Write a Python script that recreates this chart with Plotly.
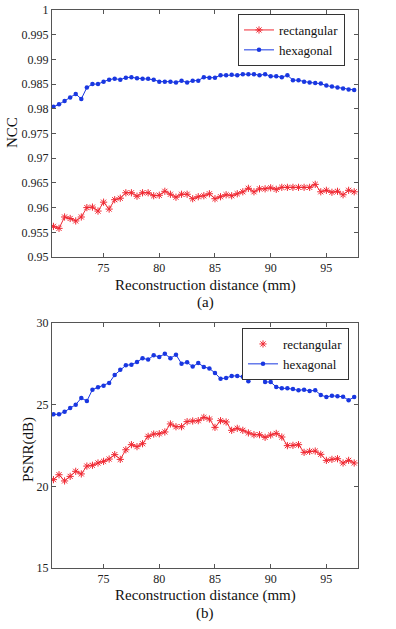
import plotly.graph_objects as go

distance = [70.5 + 0.5 * i for i in range(55)]

ncc_hex = [0.9804, 0.9809, 0.9816, 0.9823, 0.9830, 0.9820, 0.9843, 0.9850, 0.9850, 0.9855,
           0.9859, 0.9861, 0.9859, 0.9863, 0.9864, 0.9862, 0.9861, 0.9861, 0.9859, 0.9855,
           0.9855, 0.9855, 0.9853, 0.9857, 0.9853, 0.9857, 0.9857, 0.9864, 0.9863, 0.9863,
           0.9868, 0.9868, 0.9869, 0.9868, 0.9870, 0.9870, 0.9870, 0.9868, 0.9870, 0.9866,
           0.9866, 0.9864, 0.9868, 0.9858, 0.9858, 0.9855, 0.9853, 0.9852, 0.9851, 0.9847,
           0.9845, 0.9843, 0.9841, 0.9839, 0.9838]
ncc_rect = [0.9562, 0.9558, 0.9581, 0.9578, 0.9573, 0.9581, 0.9600, 0.9601, 0.9593, 0.9611,
            0.9597, 0.9616, 0.9619, 0.9630, 0.9630, 0.9623, 0.9630, 0.9630, 0.9624, 0.9625,
            0.9633, 0.9627, 0.9621, 0.9627, 0.9627, 0.9618, 0.9622, 0.9624, 0.9628, 0.9618,
            0.9622, 0.9626, 0.9624, 0.9628, 0.9632, 0.9639, 0.9632, 0.9638, 0.9638, 0.9640,
            0.9637, 0.9641, 0.9641, 0.9641, 0.9641, 0.9641, 0.9641, 0.9647, 0.9632, 0.9635,
            0.9631, 0.9633, 0.9626, 0.9635, 0.9632]
psnr_hex = [24.41, 24.41, 24.57, 24.80, 25.00, 25.41, 25.22, 25.92, 26.06, 26.16,
            26.33, 26.82, 27.14, 27.41, 27.45, 27.61, 27.84, 27.76, 28.02, 27.92,
            28.12, 27.84, 28.06, 27.51, 27.59, 27.33, 27.55, 27.31, 27.22, 26.94,
            26.59, 26.63, 26.76, 26.76, 26.71, 26.43, 26.98, 26.80, 26.39, 26.39,
            26.08, 26.00, 26.00, 25.96, 25.88, 25.92, 25.84, 25.88, 25.59, 25.47,
            25.55, 25.51, 25.49, 25.27, 25.47]
psnr_rect = [20.41, 20.71, 20.33, 20.61, 20.92, 20.76, 21.24, 21.29, 21.43, 21.53,
             21.67, 21.94, 21.65, 22.24, 22.55, 22.43, 22.61, 23.06, 23.20, 23.22,
             23.33, 23.82, 23.65, 23.65, 23.96, 24.00, 24.02, 24.22, 24.12, 23.61,
             24.02, 23.94, 23.43, 23.55, 23.43, 23.27, 23.16, 23.16, 23.00, 23.14,
             23.24, 23.02, 22.49, 22.51, 22.55, 22.08, 22.14, 22.16, 21.96, 21.59,
             21.65, 21.69, 21.43, 21.59, 21.43]

x_ticks = [75, 80, 85, 90, 95]
ncc_ticks = [0.95, 0.955, 0.96, 0.965, 0.97, 0.975, 0.98, 0.985, 0.99, 0.995, 1.0]
ncc_ticktext = ["0.95", "0.955", "0.96", "0.965", "0.97", "0.975", "0.98", "0.985", "0.99", "0.995", "1"]
psnr_ticks = [15, 20, 25, 30]

RED = "rgb(240,40,50)"
BLUE = "rgb(25,55,225)"
FONT = "Liberation Serif, Times New Roman, DejaVu Serif, serif"
AX = "#555555"
TXT = "#111111"

fig = go.Figure()

rect_marker = dict(symbol="asterisk-open", size=6, color=RED, line=dict(color=RED, width=1))
hex_marker = dict(symbol="circle", size=4.5, color=BLUE)

# top panel
fig.add_trace(go.Scatter(x=distance, y=ncc_rect, mode="lines+markers", name="rectangular",
                         line=dict(color=RED, width=1), marker=rect_marker,
                         xaxis="x", yaxis="y", legend="legend"))
fig.add_trace(go.Scatter(x=distance, y=ncc_hex, mode="lines+markers", name="hexagonal",
                         line=dict(color=BLUE, width=1), marker=hex_marker,
                         xaxis="x", yaxis="y", legend="legend"))

# bottom panel
fig.add_trace(go.Scatter(x=distance, y=psnr_rect, mode="lines+markers", name="rectangular",
                         line=dict(color=RED, width=1), marker=rect_marker,
                         xaxis="x2", yaxis="y2", showlegend=False))
fig.add_trace(go.Scatter(x=[None], y=[None], mode="markers", name="rectangular",
                         marker=rect_marker, xaxis="x2", yaxis="y2", legend="legend2"))
fig.add_trace(go.Scatter(x=distance, y=psnr_hex, mode="lines+markers", name="hexagonal",
                         line=dict(color=BLUE, width=1), marker=hex_marker,
                         xaxis="x2", yaxis="y2", legend="legend2"))

axis_common = dict(showline=True, linecolor=AX, linewidth=1, mirror="ticks", ticks="inside",
                   ticklen=4, tickcolor=AX, showgrid=False, zeroline=False, automargin=False,
                   tickfont=dict(family=FONT, size=12, color="#222222"))

W, H = 396, 629
PL, PR, PT, PB = 52, 358, 10, 568
PH = PB - PT
PW = PR - PL


def py(page_y):
    return (PB - page_y) / PH


def px(page_x):
    return (page_x - PL) / PW


top_dom = [py(257), 1.0]
bot_dom = [0.0, py(323)]


def ann(text, x, y, size=14, angle=0):
    return dict(text=text, x=px(x), y=py(y), xref="paper", yref="paper", showarrow=False,
                textangle=angle, xanchor="center", yanchor="middle",
                font=dict(family=FONT, size=size, color=TXT))


fig.update_layout(
    width=W, height=H,
    margin=dict(l=PL, r=W - PR, t=PT, b=H - PB, autoexpand=False),
    paper_bgcolor="white", plot_bgcolor="white",
    font=dict(family=FONT, color="#222222"),
    xaxis=dict(domain=[0, 1], anchor="y", range=[70.37, 97.84], tickvals=x_ticks, **axis_common),
    yaxis=dict(domain=top_dom, anchor="x", range=[0.95, 1.0], tickvals=ncc_ticks, ticktext=ncc_ticktext,
               **axis_common),
    xaxis2=dict(domain=[0, 1], anchor="y2", range=[70.37, 97.84], tickvals=x_ticks, **axis_common),
    yaxis2=dict(domain=bot_dom, anchor="x2", range=[15, 30], tickvals=psnr_ticks, **axis_common),
    legend=dict(x=px(238), y=py(14), xanchor="left", yanchor="top",
                bordercolor="#333333", borderwidth=1, bgcolor="white",
                font=dict(family=FONT, size=13, color=TXT), tracegroupgap=0),
    legend2=dict(x=px(242), y=py(328), xanchor="left", yanchor="top",
                 bordercolor="#333333", borderwidth=1, bgcolor="white",
                 font=dict(family=FONT, size=13, color=TXT), tracegroupgap=0),
    annotations=[
        ann("NCC", 12, 133, 15, -90),
        ann("PSNR(dB)", 28, 450, 15, -90),
        ann("Reconstruction distance (mm)", 205, 285, 15),
        ann("(a)", 205, 302, 15),
        ann("Reconstruction distance (mm)", 205, 595, 15),
        ann("(b)", 205, 613, 15),
    ],
)

fig.write_html("out.html",
               config={"displayModeBar": False},
               post_script="document.body.style.margin='0';document.body.style.padding='0';")
